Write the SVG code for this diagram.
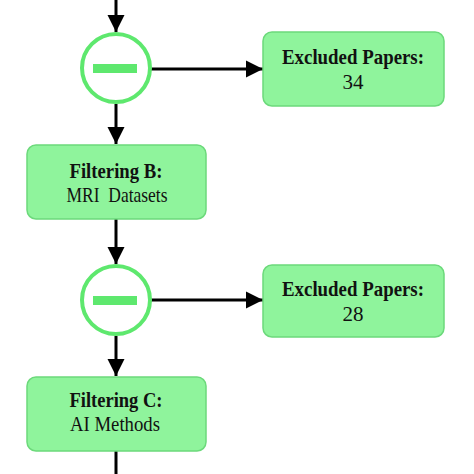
<svg xmlns="http://www.w3.org/2000/svg" width="474" height="474" viewBox="0 0 474 474">
<style>
.box{fill:#8ff49c;stroke:#6cd97b;stroke-width:1.5}
.circ{fill:#fff;stroke:#5ee86e;stroke-width:4}
.bar{fill:#5ee86e}
.line{stroke:#000;stroke-width:3;fill:none;marker-end:url(#ah)}
text{font-family:"Liberation Serif","Times New Roman",serif;font-size:21px;fill:#111;text-anchor:middle;white-space:pre}
.b{font-weight:bold}
</style>
<defs>
<marker id="ah" viewBox="0 0 10 10" refX="10" refY="5" markerWidth="5.7" markerHeight="5.7" markerUnits="strokeWidth" orient="auto">
<path d="M0,0 L10,5 L0,10 Z" fill="#000"/>
</marker>
</defs>
<rect width="474" height="474" fill="#fff"/>
<g id="connectors">
<line class="line" x1="116" y1="0" x2="116" y2="32"/>
<line class="line" x1="151" y1="69" x2="263" y2="69"/>
<line class="line" x1="116" y1="104" x2="116" y2="144"/>
<line class="line" x1="116" y1="219" x2="116" y2="264"/>
<line class="line" x1="151" y1="300" x2="263" y2="300"/>
<line class="line" x1="116" y1="336" x2="116" y2="376"/>
<line x1="116" y1="451" x2="116" y2="474" stroke="#000" stroke-width="3"/>
</g>
<g id="minus1">
<circle class="circ" cx="116" cy="68" r="34"/>
<rect class="bar" x="93" y="64" width="44" height="9"/>
</g>
<g id="excluded1">
<rect class="box" x="263" y="32" width="181" height="74" rx="9"/>
<text class="b" x="353" y="64" textLength="142" lengthAdjust="spacingAndGlyphs">Excluded Papers:</text>
<text x="353" y="89">34</text>
</g>
<g id="filteringB">
<rect class="box" x="27" y="145" width="179" height="74" rx="9"/>
<text class="b" x="116" y="178" textLength="93" lengthAdjust="spacingAndGlyphs">Filtering B:</text>
<text x="117" y="202" textLength="101" lengthAdjust="spacingAndGlyphs">MRI  Datasets</text>
</g>
<g id="minus2">
<circle class="circ" cx="116" cy="300" r="34"/>
<rect class="bar" x="93" y="296" width="44" height="9"/>
</g>
<g id="excluded2">
<rect class="box" x="263" y="265" width="181" height="72" rx="9"/>
<text class="b" x="353" y="296" textLength="142" lengthAdjust="spacingAndGlyphs">Excluded Papers:</text>
<text x="353" y="321">28</text>
</g>
<g id="filteringC">
<rect class="box" x="27" y="377" width="179" height="74" rx="9"/>
<text class="b" x="116" y="407" textLength="93" lengthAdjust="spacingAndGlyphs">Filtering C:</text>
<text x="115" y="431" textLength="90" lengthAdjust="spacingAndGlyphs">AI Methods</text>
</g>
</svg>
